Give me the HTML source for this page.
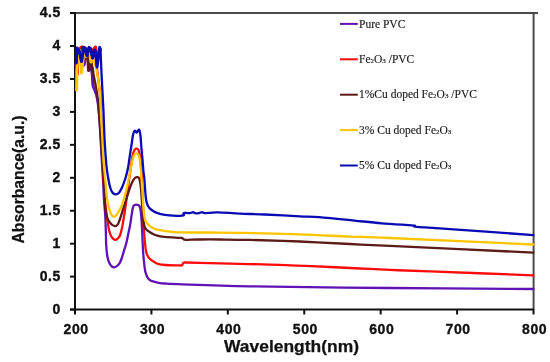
<!DOCTYPE html>
<html><head><meta charset="utf-8"><style>
html,body{margin:0;padding:0;background:#fff;}
svg{display:block;}
.tick text{font-family:"Liberation Sans",sans-serif;font-weight:bold;font-size:14px;letter-spacing:0.6px;fill:#111;stroke:#111;stroke-width:0.35px;}
.ttl{font-family:"Liberation Sans",sans-serif;font-weight:bold;font-size:16.2px;fill:#111;stroke:#111;stroke-width:0.25px;}
.leg text{font-family:"Liberation Serif",serif;font-size:11.5px;fill:#1a1a1a;stroke:#222;stroke-width:0.15px;}
.leg .sub{font-size:7px;}
</style></head><body>
<svg width="550" height="362" viewBox="0 0 550 362">
<rect width="550" height="362" fill="#fff"/>
<g stroke="#4a4a4a" stroke-width="2" fill="none">
<line x1="70" y1="13" x2="538" y2="13"/>
<line x1="533.6" y1="13" x2="533.6" y2="310"/>
</g>
<g stroke="#111" stroke-width="2" fill="none">
<line x1="75" y1="12" x2="75" y2="310.6"/>
<line x1="70" y1="309.6" x2="534" y2="309.6"/>
<line x1="70" y1="309.60" x2="75" y2="309.60"/><line x1="70" y1="276.65" x2="75" y2="276.65"/><line x1="70" y1="243.70" x2="75" y2="243.70"/><line x1="70" y1="210.75" x2="75" y2="210.75"/><line x1="70" y1="177.80" x2="75" y2="177.80"/><line x1="70" y1="144.85" x2="75" y2="144.85"/><line x1="70" y1="111.90" x2="75" y2="111.90"/><line x1="70" y1="78.95" x2="75" y2="78.95"/><line x1="70" y1="46.00" x2="75" y2="46.00"/><line x1="70" y1="13.05" x2="75" y2="13.05"/><line x1="75.00" y1="309.6" x2="75.00" y2="314.5"/><line x1="151.42" y1="309.6" x2="151.42" y2="314.5"/><line x1="227.83" y1="309.6" x2="227.83" y2="314.5"/><line x1="304.25" y1="309.6" x2="304.25" y2="314.5"/><line x1="380.67" y1="309.6" x2="380.67" y2="314.5"/><line x1="457.08" y1="309.6" x2="457.08" y2="314.5"/><line x1="533.50" y1="309.6" x2="533.50" y2="314.5"/>
</g>
<g fill="none" stroke-width="2.3" stroke-linejoin="round" stroke-linecap="round">
<path d="M76.00,65.00 L78.00,55.00 L80.00,60.00 L82.00,52.00 L84.00,65.00 L86.00,55.00 L88.00,58.00 L90.00,62.00 L92.00,72.00 L93.20,87.00 C93.70,88.33 95.37,91.83 96.20,95.00 C97.03,98.17 97.65,101.83 98.20,106.00 C98.75,110.17 99.00,112.67 99.50,120.00 C100.00,127.33 100.62,140.00 101.20,150.00 C101.78,160.00 102.53,171.67 103.00,180.00 C103.47,188.33 103.63,194.17 104.00,200.00 C104.37,205.83 104.90,210.00 105.20,215.00 C105.50,220.00 105.63,225.00 105.80,230.00 C105.97,235.00 106.00,241.00 106.20,245.00 C106.40,249.00 106.68,251.57 107.00,254.00 C107.32,256.43 107.53,257.78 108.10,259.60 C108.67,261.42 109.52,263.62 110.40,264.90 C111.28,266.18 112.38,267.05 113.40,267.30 C114.42,267.55 115.48,267.05 116.50,266.40 C117.52,265.75 118.62,264.80 119.50,263.40 C120.38,262.00 121.03,260.17 121.80,258.00 C122.57,255.83 123.33,252.93 124.10,250.40 C124.87,247.87 125.65,245.83 126.40,242.80 C127.15,239.77 127.97,235.23 128.60,232.20 C129.23,229.17 129.72,227.30 130.20,224.60 C130.68,221.90 131.10,218.60 131.50,216.00 C131.90,213.40 132.23,210.72 132.60,209.00 C132.97,207.28 133.27,206.40 133.70,205.70 C134.13,205.00 134.57,204.93 135.20,204.80 C135.83,204.67 136.83,204.75 137.50,204.90 C138.17,205.05 138.73,205.10 139.20,205.70 C139.67,206.30 140.00,207.12 140.30,208.50 C140.60,209.88 140.78,211.92 141.00,214.00 C141.22,216.08 141.40,218.00 141.60,221.00 C141.80,224.00 141.97,227.17 142.20,232.00 C142.43,236.83 142.70,245.00 143.00,250.00 C143.30,255.00 143.63,258.50 144.00,262.00 C144.37,265.50 144.70,268.58 145.20,271.00 C145.70,273.42 146.37,275.12 147.00,276.50 C147.63,277.88 148.17,278.52 149.00,279.30 C149.83,280.08 150.38,280.62 152.00,281.20 C153.62,281.78 156.53,282.42 158.70,282.80 C160.87,283.18 161.78,283.28 165.00,283.50 C168.22,283.72 163.83,283.63 178.00,284.10 C192.17,284.57 214.67,285.65 250.00,286.30 C285.33,286.95 342.77,287.55 390.00,288.00 C437.23,288.45 509.50,288.83 533.40,289.00" stroke="#6012B4" />
<path d="M76.00,65.00 L78.00,55.00 L80.00,60.00 L82.00,52.00 L84.00,65.00 L86.00,55.00 L88.00,58.00 L90.00,62.00 L92.00,72.00 L93.20,87.00" stroke="#6012B4" stroke-width="3.0"/>
<path d="M77.40,74.00 L77.60,62.00 L78.50,50.00 L81.50,47.00 L83.00,52.00 L85.00,48.00 L87.00,52.00 L89.00,48.00 L91.00,53.00 L93.00,50.00 L95.50,47.00 L96.30,52.00 C96.38,54.33 96.58,62.33 96.80,66.00 C97.02,69.67 97.33,71.67 97.60,74.00 C97.87,76.33 98.07,77.33 98.40,80.00 C98.73,82.67 99.27,86.67 99.60,90.00 C99.93,93.33 100.13,95.00 100.40,100.00 C100.67,105.00 100.95,113.33 101.20,120.00 C101.45,126.67 101.57,131.67 101.90,140.00 C102.23,148.33 102.87,162.50 103.20,170.00 C103.53,177.50 103.65,180.17 103.90,185.00 C104.15,189.83 104.35,194.83 104.70,199.00 C105.05,203.17 105.53,206.50 106.00,210.00 C106.47,213.50 107.00,216.67 107.50,220.00 C108.00,223.33 108.33,227.20 109.00,230.00 C109.67,232.80 110.47,235.17 111.50,236.80 C112.53,238.43 114.07,239.60 115.20,239.80 C116.33,240.00 117.45,238.88 118.30,238.00 C119.15,237.12 119.65,236.33 120.30,234.50 C120.95,232.67 121.65,229.58 122.20,227.00 C122.75,224.42 123.13,221.83 123.60,219.00 C124.07,216.17 124.43,213.83 125.00,210.00 C125.57,206.17 126.33,201.00 127.00,196.00 C127.67,191.00 128.37,184.62 129.00,180.00 C129.63,175.38 130.22,172.30 130.80,168.30 C131.38,164.30 131.88,159.05 132.50,156.00 C133.12,152.95 133.83,151.22 134.50,150.00 C135.17,148.78 135.83,148.70 136.50,148.70 C137.17,148.70 137.92,148.62 138.50,150.00 C139.08,151.38 139.57,154.00 140.00,157.00 C140.43,160.00 140.75,163.33 141.10,168.00 C141.45,172.67 141.78,178.83 142.10,185.00 C142.42,191.17 142.77,198.83 143.00,205.00 C143.23,211.17 143.28,217.00 143.50,222.00 C143.72,227.00 144.02,231.17 144.30,235.00 C144.58,238.83 144.88,242.17 145.20,245.00 C145.52,247.83 145.73,250.08 146.20,252.00 C146.67,253.92 147.30,255.28 148.00,256.50 C148.70,257.72 149.40,258.42 150.40,259.30 C151.40,260.18 152.62,261.00 154.00,261.80 C155.38,262.60 156.87,263.57 158.70,264.10 C160.53,264.63 161.78,264.78 165.00,265.00 C168.22,265.22 175.20,265.33 178.00,265.40 C180.80,265.47 181.03,265.60 181.80,265.40 C182.57,265.20 182.30,264.65 182.60,264.20 C182.90,263.75 183.03,262.98 183.60,262.70 C184.17,262.42 183.27,262.48 186.00,262.50 C188.73,262.52 192.67,262.62 200.00,262.80 C207.33,262.98 218.33,263.30 230.00,263.60 C241.67,263.90 260.00,264.32 270.00,264.60 C280.00,264.88 280.00,264.90 290.00,265.30 C300.00,265.70 318.33,266.47 330.00,267.00 C341.67,267.53 350.00,268.02 360.00,268.50 C370.00,268.98 378.33,269.42 390.00,269.90 C401.67,270.38 406.10,270.50 430.00,271.40 C453.90,272.30 516.17,274.65 533.40,275.30" stroke="#FF0A0A" />
<path d="M77.40,74.00 L77.60,62.00 L78.50,50.00 L81.50,47.00 L83.00,52.00 L85.00,48.00 L87.00,52.00 L89.00,48.00 L91.00,53.00 L93.00,50.00 L95.50,47.00 L96.30,52.00" stroke="#FF0A0A" stroke-width="3.0"/>
<path d="M77.00,58.00 L79.00,52.00 L81.00,50.00 L83.00,47.00 L85.00,50.00 L87.80,55.00 L88.50,70.50 L89.50,62.00 L90.30,58.30 L93.00,72.00 C93.47,74.33 94.98,81.33 95.80,86.00 C96.62,90.67 97.28,94.33 97.90,100.00 C98.52,105.67 98.87,111.67 99.50,120.00 C100.13,128.33 100.98,140.00 101.70,150.00 C102.42,160.00 103.32,172.17 103.80,180.00 C104.28,187.83 104.32,192.00 104.60,197.00 C104.88,202.00 105.07,206.53 105.50,210.00 C105.93,213.47 106.37,215.60 107.20,217.80 C108.03,220.00 109.22,221.80 110.50,223.20 C111.78,224.60 113.65,226.07 114.90,226.20 C116.15,226.33 116.98,225.70 118.00,224.00 C119.02,222.30 119.83,219.50 121.00,216.00 C122.17,212.50 123.58,207.50 125.00,203.00 C126.42,198.50 128.25,192.58 129.50,189.00 C130.75,185.42 131.58,183.33 132.50,181.50 C133.42,179.67 134.18,178.72 135.00,178.00 C135.82,177.28 136.67,177.03 137.40,177.20 C138.13,177.37 138.83,177.37 139.40,179.00 C139.97,180.63 140.40,183.50 140.80,187.00 C141.20,190.50 141.50,195.83 141.80,200.00 C142.10,204.17 142.33,208.50 142.60,212.00 C142.87,215.50 143.08,218.58 143.40,221.00 C143.72,223.42 143.98,225.03 144.50,226.50 C145.02,227.97 145.75,228.95 146.50,229.80 C147.25,230.65 147.92,230.90 149.00,231.60 C150.08,232.30 151.62,233.32 153.00,234.00 C154.38,234.68 155.80,235.27 157.30,235.70 C158.80,236.13 160.38,236.37 162.00,236.60 C163.62,236.83 164.33,236.90 167.00,237.10 C169.67,237.30 175.53,237.65 178.00,237.80 C180.47,237.95 181.00,237.90 181.80,238.00 C182.60,238.10 182.35,238.13 182.80,238.40 C183.25,238.67 183.80,239.37 184.50,239.60 C185.20,239.83 184.42,239.82 187.00,239.80 C189.58,239.78 194.50,239.55 200.00,239.50 C205.50,239.45 211.67,239.43 220.00,239.50 C228.33,239.57 236.67,239.57 250.00,239.90 C263.33,240.23 283.33,240.82 300.00,241.50 C316.67,242.18 335.00,243.27 350.00,244.00 C365.00,244.73 359.43,244.47 390.00,245.90 C420.57,247.33 509.50,251.48 533.40,252.60" stroke="#5C1A18" />
<path d="M77.00,58.00 L79.00,52.00 L81.00,50.00 L83.00,47.00 L85.00,50.00 L87.80,55.00 L88.50,70.50 L89.50,62.00 L90.30,58.30 L93.00,72.00" stroke="#5C1A18" stroke-width="3.0"/>
<path d="M76.70,90.00 L76.90,70.00 L78.00,52.00 L79.80,50.00 L81.50,73.00 L84.00,50.00 L85.50,52.00 L86.40,56.60 L88.00,50.00 L89.50,52.00 L91.00,62.00 L93.00,58.00 C93.35,58.97 94.43,61.47 95.10,63.80 C95.77,66.13 96.47,69.30 97.00,72.00 C97.53,74.70 97.87,77.00 98.30,80.00 C98.73,83.00 99.25,86.67 99.60,90.00 C99.95,93.33 100.13,95.00 100.40,100.00 C100.67,105.00 100.95,115.00 101.20,120.00 C101.45,125.00 101.52,123.33 101.90,130.00 C102.28,136.67 102.93,151.67 103.50,160.00 C104.07,168.33 104.72,173.67 105.30,180.00 C105.88,186.33 106.38,193.33 107.00,198.00 C107.62,202.67 108.33,205.33 109.00,208.00 C109.67,210.67 110.27,212.55 111.00,214.00 C111.73,215.45 112.57,216.45 113.40,216.70 C114.23,216.95 115.07,216.45 116.00,215.50 C116.93,214.55 118.00,212.75 119.00,211.00 C120.00,209.25 121.08,207.33 122.00,205.00 C122.92,202.67 123.67,200.00 124.50,197.00 C125.33,194.00 126.17,190.67 127.00,187.00 C127.83,183.33 128.75,178.67 129.50,175.00 C130.25,171.33 130.83,168.08 131.50,165.00 C132.17,161.92 132.83,158.37 133.50,156.50 C134.17,154.63 134.83,154.28 135.50,153.80 C136.17,153.32 136.87,153.07 137.50,153.60 C138.13,154.13 138.80,154.93 139.30,157.00 C139.80,159.07 140.12,162.17 140.50,166.00 C140.88,169.83 141.25,175.17 141.60,180.00 C141.95,184.83 142.30,190.33 142.60,195.00 C142.90,199.67 143.12,204.50 143.40,208.00 C143.68,211.50 143.95,213.83 144.30,216.00 C144.65,218.17 144.83,219.55 145.50,221.00 C146.17,222.45 147.38,223.72 148.30,224.70 C149.22,225.68 149.95,226.22 151.00,226.90 C152.05,227.58 153.10,228.25 154.60,228.80 C156.10,229.35 158.17,229.82 160.00,230.20 C161.83,230.58 162.60,230.73 165.60,231.10 C168.60,231.47 170.60,232.17 178.00,232.40 C185.40,232.63 199.67,232.43 210.00,232.50 C220.33,232.57 225.00,232.48 240.00,232.80 C255.00,233.12 281.67,233.77 300.00,234.40 C318.33,235.03 335.00,236.00 350.00,236.60 C365.00,237.20 359.43,236.68 390.00,238.00 C420.57,239.32 509.50,243.42 533.40,244.50" stroke="#FFC400" />
<path d="M76.70,90.00 L76.90,70.00 L78.00,52.00 L79.80,50.00 L81.50,73.00 L84.00,50.00 L85.50,52.00 L86.40,56.60 L88.00,50.00 L89.50,52.00 L91.00,62.00 L93.00,58.00" stroke="#FFC400" stroke-width="3.0"/>
<path d="M76.30,63.00 L77.00,48.00 L79.00,50.00 L81.50,61.50 L84.00,47.50 L85.50,48.50 L87.00,56.00 L89.00,47.50 L90.50,48.50 L92.50,58.00 L94.70,50.00 L95.50,52.00 L97.00,67.00 L99.70,47.50 L100.50,50.00 C100.65,53.50 100.92,61.00 101.40,71.00 C101.88,81.00 102.87,98.50 103.40,110.00 C103.93,121.50 104.10,130.83 104.60,140.00 C105.10,149.17 105.80,158.67 106.40,165.00 C107.00,171.33 107.57,174.25 108.20,178.00 C108.83,181.75 109.47,185.03 110.20,187.50 C110.93,189.97 111.70,191.65 112.60,192.80 C113.50,193.95 114.57,194.37 115.60,194.40 C116.63,194.43 117.73,194.15 118.80,193.00 C119.87,191.85 120.88,190.00 122.00,187.50 C123.12,185.00 124.50,181.25 125.50,178.00 C126.50,174.75 127.35,171.22 128.00,168.00 C128.65,164.78 128.82,162.53 129.40,158.70 C129.98,154.87 130.90,148.95 131.50,145.00 C132.10,141.05 132.47,137.40 133.00,135.00 C133.53,132.60 134.07,131.00 134.70,130.60 C135.33,130.20 136.07,132.75 136.80,132.60 C137.53,132.45 138.48,129.13 139.10,129.70 C139.72,130.27 140.12,132.95 140.50,136.00 C140.88,139.05 141.08,144.22 141.40,148.00 C141.72,151.78 142.05,154.70 142.40,158.70 C142.75,162.70 143.18,168.78 143.50,172.00 C143.82,175.22 144.00,174.67 144.30,178.00 C144.60,181.33 144.97,188.17 145.30,192.00 C145.63,195.83 145.85,198.67 146.30,201.00 C146.75,203.33 147.22,204.58 148.00,206.00 C148.78,207.42 149.52,208.35 151.00,209.50 C152.48,210.65 154.57,212.02 156.90,212.90 C159.23,213.78 160.72,214.33 165.00,214.80 C169.28,215.27 179.53,215.93 182.60,215.70 C185.67,215.47 183.08,213.88 183.40,213.40 C183.72,212.92 183.73,212.85 184.50,212.80 C185.27,212.75 186.92,213.08 188.00,213.10 C189.08,213.12 190.17,213.05 191.00,212.90 C191.83,212.75 192.33,212.17 193.00,212.20 C193.67,212.23 194.00,212.93 195.00,213.10 C196.00,213.27 197.83,213.37 199.00,213.20 C200.17,213.03 201.17,212.13 202.00,212.10 C202.83,212.07 202.67,212.87 204.00,213.00 C205.33,213.13 207.67,213.00 210.00,212.90 C212.33,212.80 213.00,212.28 218.00,212.40 C223.00,212.52 232.17,213.25 240.00,213.60 C247.83,213.95 255.00,214.05 265.00,214.50 C275.00,214.95 289.62,215.73 300.00,216.30 C310.38,216.87 318.22,217.18 327.30,217.90 C336.38,218.62 345.42,219.70 354.50,220.60 C363.58,221.50 372.25,222.50 381.80,223.30 C391.35,224.10 406.35,224.97 411.80,225.40 C417.25,225.83 413.58,225.65 414.50,225.90 C415.42,226.15 411.38,226.37 417.30,226.90 C423.22,227.43 430.65,227.73 450.00,229.10 C469.35,230.47 519.50,234.10 533.40,235.10" stroke="#0A0AB4" />
<path d="M76.30,63.00 L77.00,48.00 L79.00,50.00 L81.50,61.50 L84.00,47.50 L85.50,48.50 L87.00,56.00 L89.00,47.50 L90.50,48.50 L92.50,58.00 L94.70,50.00 L95.50,52.00 L97.00,67.00 L99.70,47.50 L100.50,50.00" stroke="#0A0AB4" stroke-width="3.0"/>
</g>
<g class="tick"><text x="61" y="314.00" text-anchor="end">0</text><text x="61" y="281.05" text-anchor="end">0.5</text><text x="61" y="248.10" text-anchor="end">1</text><text x="61" y="215.15" text-anchor="end">1.5</text><text x="61" y="182.20" text-anchor="end">2</text><text x="61" y="149.25" text-anchor="end">2.5</text><text x="61" y="116.30" text-anchor="end">3</text><text x="61" y="83.35" text-anchor="end">3.5</text><text x="61" y="50.40" text-anchor="end">4</text><text x="61" y="17.45" text-anchor="end">4.5</text><text x="76.10" y="334.0" text-anchor="middle">200</text><text x="152.52" y="334.0" text-anchor="middle">300</text><text x="228.93" y="334.0" text-anchor="middle">400</text><text x="305.35" y="334.0" text-anchor="middle">500</text><text x="381.77" y="334.0" text-anchor="middle">600</text><text x="458.18" y="334.0" text-anchor="middle">700</text><text x="534.60" y="334.0" text-anchor="middle">800</text></g>
<text class="ttl" x="224" y="351.6" textLength="135" lengthAdjust="spacingAndGlyphs">Wavelength(nm)</text>
<text class="ttl" transform="translate(23.8,243.5) rotate(-90)" x="0" y="0" textLength="128" lengthAdjust="spacingAndGlyphs">Absorbance(a.u.)</text>
<g class="leg"><line x1="340" y1="23.9" x2="357.8" y2="23.9" stroke="#6012B4" stroke-width="2"/><text x="359.0" y="27.6">Pure PVC</text><line x1="340" y1="59.3" x2="357.8" y2="59.3" stroke="#FF0A0A" stroke-width="2"/><text x="359.0" y="63.0">Fe<tspan class="sub">2</tspan>O<tspan class="sub">3</tspan> /PVC</text><line x1="340" y1="94.7" x2="357.8" y2="94.7" stroke="#5C1A18" stroke-width="2"/><text x="359.0" y="98.4">1%Cu doped Fe<tspan class="sub">2</tspan>O<tspan class="sub">3</tspan> /PVC</text><line x1="340" y1="130.1" x2="357.8" y2="130.1" stroke="#FFC400" stroke-width="2"/><text x="359.0" y="133.8">3% Cu doped Fe<tspan class="sub">2</tspan>O<tspan class="sub">3</tspan></text><line x1="340" y1="165.5" x2="357.8" y2="165.5" stroke="#0A0AB4" stroke-width="2"/><text x="359.0" y="169.2">5% Cu doped Fe<tspan class="sub">2</tspan>O<tspan class="sub">3</tspan></text></g>
</svg>
</body></html>
